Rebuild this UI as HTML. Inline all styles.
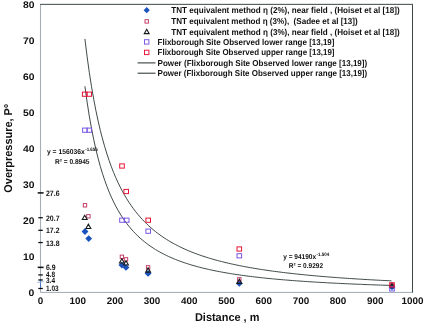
<!DOCTYPE html>
<html lang="en"><head><meta charset="utf-8"><title>Overpressure vs Distance</title>
<style>html,body{margin:0;padding:0;background:#fff;}svg{display:block;}text{font-family:"Liberation Sans", "DejaVu Sans", sans-serif;font-weight:bold;fill:#111;text-rendering:geometricPrecision;}</style></head><body>
<svg width="425" height="324" viewBox="0 0 425 324">
<rect x="0" y="0" width="425" height="324" fill="#ffffff"/>
<line x1="40.50" y1="4.35" x2="40.50" y2="292.20" stroke="#a4afb6" stroke-width="1.1"/>
<line x1="40.50" y1="292.40" x2="412.50" y2="292.40" stroke="#8c9aa6" stroke-width="0.85"/>
<line x1="40.10" y1="4.35" x2="412.90" y2="4.35" stroke="#263232" stroke-width="0.9"/>
<line x1="412.50" y1="4.35" x2="412.50" y2="292.60" stroke="#263232" stroke-width="0.9"/>
<text transform="translate(34.40 295.50) scale(1 0.95)" font-size="10.0" text-anchor="end" textLength="5.8" lengthAdjust="spacingAndGlyphs">0</text>
<text transform="translate(34.40 259.52) scale(1 0.95)" font-size="10.0" text-anchor="end" textLength="11.5" lengthAdjust="spacingAndGlyphs">10</text>
<text transform="translate(34.40 223.54) scale(1 0.95)" font-size="10.0" text-anchor="end" textLength="11.5" lengthAdjust="spacingAndGlyphs">20</text>
<text transform="translate(34.40 187.56) scale(1 0.95)" font-size="10.0" text-anchor="end" textLength="11.5" lengthAdjust="spacingAndGlyphs">30</text>
<text transform="translate(34.40 151.58) scale(1 0.95)" font-size="10.0" text-anchor="end" textLength="11.5" lengthAdjust="spacingAndGlyphs">40</text>
<text transform="translate(34.40 115.59) scale(1 0.95)" font-size="10.0" text-anchor="end" textLength="11.5" lengthAdjust="spacingAndGlyphs">50</text>
<text transform="translate(34.40 79.61) scale(1 0.95)" font-size="10.0" text-anchor="end" textLength="11.5" lengthAdjust="spacingAndGlyphs">60</text>
<text transform="translate(34.40 43.63) scale(1 0.95)" font-size="10.0" text-anchor="end" textLength="11.5" lengthAdjust="spacingAndGlyphs">70</text>
<text transform="translate(34.40 7.65) scale(1 0.95)" font-size="10.0" text-anchor="end" textLength="11.5" lengthAdjust="spacingAndGlyphs">80</text>
<text transform="translate(40.50 304.40) scale(1 0.95)" font-size="10.0" text-anchor="middle" textLength="5.5" lengthAdjust="spacingAndGlyphs">0</text>
<text transform="translate(77.70 304.40) scale(1 0.95)" font-size="10.0" text-anchor="middle" textLength="16.5" lengthAdjust="spacingAndGlyphs">100</text>
<text transform="translate(114.90 304.40) scale(1 0.95)" font-size="10.0" text-anchor="middle" textLength="16.5" lengthAdjust="spacingAndGlyphs">200</text>
<text transform="translate(152.10 304.40) scale(1 0.95)" font-size="10.0" text-anchor="middle" textLength="16.5" lengthAdjust="spacingAndGlyphs">300</text>
<text transform="translate(189.30 304.40) scale(1 0.95)" font-size="10.0" text-anchor="middle" textLength="16.5" lengthAdjust="spacingAndGlyphs">400</text>
<text transform="translate(226.50 304.40) scale(1 0.95)" font-size="10.0" text-anchor="middle" textLength="16.5" lengthAdjust="spacingAndGlyphs">500</text>
<text transform="translate(263.70 304.40) scale(1 0.95)" font-size="10.0" text-anchor="middle" textLength="16.5" lengthAdjust="spacingAndGlyphs">600</text>
<text transform="translate(300.90 304.40) scale(1 0.95)" font-size="10.0" text-anchor="middle" textLength="16.5" lengthAdjust="spacingAndGlyphs">700</text>
<text transform="translate(338.10 304.40) scale(1 0.95)" font-size="10.0" text-anchor="middle" textLength="16.5" lengthAdjust="spacingAndGlyphs">800</text>
<text transform="translate(375.30 304.40) scale(1 0.95)" font-size="10.0" text-anchor="middle" textLength="16.5" lengthAdjust="spacingAndGlyphs">900</text>
<text transform="translate(412.50 304.40) scale(1 0.95)" font-size="10.0" text-anchor="middle" textLength="22.0" lengthAdjust="spacingAndGlyphs">1000</text>
<text x="227.2" y="320.7" font-size="11.4" text-anchor="middle" textLength="64.5" lengthAdjust="spacingAndGlyphs">Distance , m</text>
<text transform="translate(11.6 148.4) rotate(-90)" font-size="11.4" text-anchor="middle" textLength="88.6" lengthAdjust="spacingAndGlyphs">Overpressure, Pº</text>
<path d="M84.90 38.88 L87.11 56.69 L89.31 72.50 L91.52 86.62 L93.72 99.29 L95.93 110.71 L98.13 121.05 L100.34 130.44 L102.55 139.01 L104.75 146.84 L106.96 154.03 L109.16 160.65 L111.37 166.75 L113.57 172.40 L115.78 177.64 L117.99 182.50 L120.19 187.03 L122.40 191.26 L124.60 195.22 L126.81 198.92 L129.02 202.39 L131.22 205.65 L133.43 208.72 L135.63 211.61 L137.84 214.34 L140.04 216.92 L142.25 219.36 L144.46 221.67 L146.66 223.86 L148.87 225.94 L151.07 227.92 L153.28 229.80 L155.48 231.59 L157.69 233.29 L159.90 234.92 L162.10 236.48 L164.31 237.96 L166.51 239.38 L168.72 240.74 L170.92 242.04 L173.13 243.29 L175.34 244.49 L177.54 245.64 L179.75 246.74 L181.95 247.80 L184.16 248.82 L186.36 249.81 L188.57 250.75 L190.78 251.66 L192.98 252.54 L195.19 253.39 L197.39 254.20 L199.60 254.99 L201.81 255.76 L204.01 256.49 L206.22 257.20 L208.42 257.89 L210.63 258.56 L212.83 259.20 L215.04 259.83 L217.25 260.43 L219.45 261.02 L221.66 261.59 L223.86 262.14 L226.07 262.68 L228.27 263.20 L230.48 263.70 L232.69 264.19 L234.89 264.67 L237.10 265.13 L239.30 265.58 L241.51 266.02 L243.71 266.44 L245.92 266.86 L248.13 267.26 L250.33 267.66 L252.54 268.04 L254.74 268.41 L256.95 268.77 L259.15 269.13 L261.36 269.47 L263.57 269.81 L265.77 270.14 L267.98 270.46 L270.18 270.77 L272.39 271.08 L274.59 271.38 L276.80 271.67 L279.01 271.95 L281.21 272.23 L283.42 272.50 L285.62 272.77 L287.83 273.03 L290.04 273.28 L292.24 273.53 L294.45 273.77 L296.65 274.01 L298.86 274.25 L301.06 274.47 L303.27 274.70 L305.48 274.92 L307.68 275.13 L309.89 275.34 L312.09 275.54 L314.30 275.75 L316.50 275.94 L318.71 276.14 L320.92 276.33 L323.12 276.51 L325.33 276.69 L327.53 276.87 L329.74 277.05 L331.94 277.22 L334.15 277.39 L336.36 277.55 L338.56 277.72 L340.77 277.88 L342.97 278.03 L345.18 278.19 L347.38 278.34 L349.59 278.49 L351.80 278.63 L354.00 278.78 L356.21 278.92 L358.41 279.05 L360.62 279.19 L362.83 279.32 L365.03 279.46 L367.24 279.58 L369.44 279.71 L371.65 279.84 L373.85 279.96 L376.06 280.08 L378.27 280.20 L380.47 280.32 L382.68 280.43 L384.88 280.54 L387.09 280.65 L389.29 280.76 L391.50 280.87" fill="none" stroke="#2a3434" stroke-width="0.9"/>
<path d="M84.90 86.28 L87.11 102.14 L89.31 116.13 L91.52 128.54 L93.72 139.60 L95.93 149.51 L98.13 158.43 L100.34 166.48 L102.55 173.79 L104.75 180.43 L106.96 186.50 L109.16 192.06 L111.37 197.16 L113.57 201.85 L115.78 206.19 L117.99 210.20 L120.19 213.92 L122.40 217.37 L124.60 220.59 L126.81 223.59 L129.02 226.39 L131.22 229.02 L133.43 231.48 L135.63 233.79 L137.84 235.96 L140.04 238.01 L142.25 239.94 L144.46 241.76 L146.66 243.48 L148.87 245.11 L151.07 246.65 L153.28 248.11 L155.48 249.50 L157.69 250.82 L159.90 252.08 L162.10 253.28 L164.31 254.42 L166.51 255.50 L168.72 256.54 L170.92 257.53 L173.13 258.48 L175.34 259.39 L177.54 260.26 L179.75 261.09 L181.95 261.89 L184.16 262.65 L186.36 263.39 L188.57 264.09 L190.78 264.77 L192.98 265.43 L195.19 266.05 L197.39 266.66 L199.60 267.24 L201.81 267.80 L204.01 268.35 L206.22 268.87 L208.42 269.37 L210.63 269.86 L212.83 270.33 L215.04 270.79 L217.25 271.23 L219.45 271.65 L221.66 272.06 L223.86 272.46 L226.07 272.85 L228.27 273.22 L230.48 273.59 L232.69 273.94 L234.89 274.28 L237.10 274.61 L239.30 274.93 L241.51 275.24 L243.71 275.55 L245.92 275.84 L248.13 276.13 L250.33 276.41 L252.54 276.68 L254.74 276.94 L256.95 277.20 L259.15 277.45 L261.36 277.69 L263.57 277.93 L265.77 278.16 L267.98 278.38 L270.18 278.60 L272.39 278.81 L274.59 279.02 L276.80 279.22 L279.01 279.42 L281.21 279.61 L283.42 279.80 L285.62 279.99 L287.83 280.17 L290.04 280.34 L292.24 280.51 L294.45 280.68 L296.65 280.84 L298.86 281.00 L301.06 281.16 L303.27 281.31 L305.48 281.46 L307.68 281.61 L309.89 281.75 L312.09 281.89 L314.30 282.03 L316.50 282.16 L318.71 282.29 L320.92 282.42 L323.12 282.55 L325.33 282.67 L327.53 282.79 L329.74 282.91 L331.94 283.03 L334.15 283.14 L336.36 283.25 L338.56 283.36 L340.77 283.47 L342.97 283.57 L345.18 283.68 L347.38 283.78 L349.59 283.88 L351.80 283.97 L354.00 284.07 L356.21 284.16 L358.41 284.25 L360.62 284.34 L362.83 284.43 L365.03 284.52 L367.24 284.61 L369.44 284.69 L371.65 284.77 L373.85 284.85 L376.06 284.93 L378.27 285.01 L380.47 285.09 L382.68 285.16 L384.88 285.24 L387.09 285.31 L389.29 285.38 L391.50 285.45" fill="none" stroke="#2a3434" stroke-width="0.9"/>
<line x1="40.50" y1="279" x2="40.50" y2="288.3" stroke="#3f6fc6" stroke-width="0.9"/>
<line x1="37.4" y1="282.4" x2="43.6" y2="281.6" stroke="#86b0e4" stroke-width="0.9"/>
<line x1="37.70" y1="192.89" x2="43.60" y2="192.89" stroke="#0c0c0c" stroke-width="1.50"/>
<text x="46.0" y="195.79" font-size="7.8" textLength="13.5" lengthAdjust="spacingAndGlyphs">27.6</text>
<line x1="38.30" y1="217.72" x2="42.80" y2="217.72" stroke="#0c0c0c" stroke-width="1.25"/>
<text x="46.0" y="220.62" font-size="7.8" textLength="13.5" lengthAdjust="spacingAndGlyphs">20.7</text>
<line x1="38.30" y1="230.31" x2="42.80" y2="230.31" stroke="#0c0c0c" stroke-width="1.25"/>
<text x="46.0" y="233.21" font-size="7.8" textLength="13.5" lengthAdjust="spacingAndGlyphs">17.2</text>
<line x1="38.30" y1="242.55" x2="42.80" y2="242.55" stroke="#0c0c0c" stroke-width="1.25"/>
<text x="46.0" y="245.95" font-size="7.8" textLength="13.5" lengthAdjust="spacingAndGlyphs">13.8</text>
<line x1="37.70" y1="267.37" x2="43.60" y2="267.37" stroke="#0c0c0c" stroke-width="1.50"/>
<text x="46.0" y="270.27" font-size="7.8" textLength="9.6" lengthAdjust="spacingAndGlyphs">6.9</text>
<line x1="38.30" y1="274.93" x2="42.80" y2="274.93" stroke="#0c0c0c" stroke-width="1.25"/>
<text x="46.0" y="277.03" font-size="7.8" textLength="9.0" lengthAdjust="spacingAndGlyphs">4.8</text>
<line x1="38.30" y1="279.97" x2="42.80" y2="279.97" stroke="#0c0c0c" stroke-width="1.25"/>
<text x="46.0" y="282.57" font-size="7.8" textLength="9.0" lengthAdjust="spacingAndGlyphs">3.4</text>
<line x1="38.30" y1="288.49" x2="42.80" y2="288.49" stroke="#0c0c0c" stroke-width="1.25"/>
<text x="46.0" y="291.39" font-size="7.8" textLength="12.6" lengthAdjust="spacingAndGlyphs">1.03</text>
<path d="M85.00 228.10 L88.40 231.50 L85.00 234.90 L81.60 231.50Z" fill="#1b52be"/>
<path d="M88.70 235.20 L92.10 238.60 L88.70 242.00 L85.30 238.60Z" fill="#1b52be"/>
<path d="M121.90 261.70 L125.30 265.10 L121.90 268.50 L118.50 265.10Z" fill="#1b52be"/>
<path d="M126.00 264.00 L129.40 267.40 L126.00 270.80 L122.60 267.40Z" fill="#1b52be"/>
<path d="M148.10 270.00 L151.50 273.40 L148.10 276.80 L144.70 273.40Z" fill="#1b52be"/>
<path d="M239.30 280.00 L242.70 283.40 L239.30 286.80 L235.90 283.40Z" fill="#1b52be"/>
<path d="M392.00 283.50 L395.40 286.90 L392.00 290.30 L388.60 286.90Z" fill="#1b52be"/>
<rect x="83.30" y="203.60" width="3.40" height="3.40" fill="none" stroke="#c02c58" stroke-width="0.90"/>
<rect x="86.70" y="214.60" width="3.40" height="3.40" fill="none" stroke="#c02c58" stroke-width="0.90"/>
<rect x="120.20" y="255.10" width="3.40" height="3.40" fill="none" stroke="#c02c58" stroke-width="0.90"/>
<rect x="124.30" y="257.70" width="3.40" height="3.40" fill="none" stroke="#c02c58" stroke-width="0.90"/>
<rect x="146.40" y="265.70" width="3.40" height="3.40" fill="none" stroke="#c02c58" stroke-width="0.90"/>
<rect x="237.60" y="277.70" width="3.40" height="3.40" fill="none" stroke="#c02c58" stroke-width="0.90"/>
<rect x="390.30" y="283.80" width="3.40" height="3.40" fill="none" stroke="#c02c58" stroke-width="0.90"/>
<path d="M84.70 215.25 L87.15 219.55 L82.25 219.55Z" fill="none" stroke="#141a1a" stroke-width="1.1" stroke-linejoin="miter"/>
<path d="M88.40 224.15 L90.85 228.45 L85.95 228.45Z" fill="none" stroke="#141a1a" stroke-width="1.1" stroke-linejoin="miter"/>
<path d="M121.90 258.75 L124.35 263.05 L119.45 263.05Z" fill="none" stroke="#141a1a" stroke-width="1.1" stroke-linejoin="miter"/>
<path d="M126.00 260.75 L128.45 265.05 L123.55 265.05Z" fill="none" stroke="#141a1a" stroke-width="1.1" stroke-linejoin="miter"/>
<path d="M148.10 267.85 L150.55 272.15 L145.65 272.15Z" fill="none" stroke="#141a1a" stroke-width="1.1" stroke-linejoin="miter"/>
<path d="M239.30 279.05 L241.75 283.35 L236.85 283.35Z" fill="none" stroke="#141a1a" stroke-width="1.1" stroke-linejoin="miter"/>
<path d="M392.00 283.45 L394.45 287.75 L389.55 287.75Z" fill="none" stroke="#141a1a" stroke-width="1.1" stroke-linejoin="miter"/>
<rect x="82.60" y="128.10" width="4.60" height="4.20" fill="none" stroke="#7a55e4" stroke-width="1.00"/>
<rect x="87.00" y="128.10" width="4.60" height="4.20" fill="none" stroke="#7a55e4" stroke-width="1.00"/>
<rect x="119.70" y="218.10" width="4.60" height="4.20" fill="none" stroke="#7a55e4" stroke-width="1.00"/>
<rect x="124.40" y="218.10" width="4.60" height="4.20" fill="none" stroke="#7a55e4" stroke-width="1.00"/>
<rect x="145.90" y="229.10" width="4.60" height="4.20" fill="none" stroke="#7a55e4" stroke-width="1.00"/>
<rect x="237.00" y="253.70" width="4.60" height="4.20" fill="none" stroke="#7a55e4" stroke-width="1.00"/>
<rect x="389.70" y="286.80" width="4.60" height="4.20" fill="none" stroke="#7a55e4" stroke-width="1.00"/>
<rect x="82.40" y="92.10" width="4.60" height="4.20" fill="none" stroke="#e61436" stroke-width="1.00"/>
<rect x="86.90" y="92.10" width="4.60" height="4.20" fill="none" stroke="#e61436" stroke-width="1.00"/>
<rect x="119.70" y="163.90" width="4.60" height="4.20" fill="none" stroke="#e61436" stroke-width="1.00"/>
<rect x="123.90" y="189.40" width="4.60" height="4.20" fill="none" stroke="#e61436" stroke-width="1.00"/>
<rect x="145.90" y="218.10" width="4.60" height="4.20" fill="none" stroke="#e61436" stroke-width="1.00"/>
<rect x="237.00" y="246.90" width="4.60" height="4.20" fill="none" stroke="#e61436" stroke-width="1.00"/>
<rect x="389.70" y="282.70" width="4.60" height="4.20" fill="none" stroke="#e61436" stroke-width="1.00"/>
<path d="M146.70 7.10 L149.80 10.20 L146.70 13.30 L143.60 10.20Z" fill="#1b52be"/>
<rect x="145.00" y="19.70" width="3.40" height="3.40" fill="none" stroke="#c02c58" stroke-width="0.90"/>
<path d="M146.70 29.35 L149.15 33.65 L144.25 33.65Z" fill="none" stroke="#141a1a" stroke-width="1.1" stroke-linejoin="miter"/>
<rect x="144.50" y="39.70" width="4.40" height="4.40" fill="none" stroke="#7a55e4" stroke-width="0.95"/>
<rect x="144.50" y="50.20" width="4.40" height="4.40" fill="none" stroke="#e61436" stroke-width="0.95"/>
<line x1="137.6" y1="62.90" x2="155.5" y2="62.90" stroke="#2c3636" stroke-width="1.05"/>
<line x1="137.6" y1="73.20" x2="155.5" y2="73.20" stroke="#2c3636" stroke-width="1.05"/>
<text x="171.30" y="13.40" font-size="8.6" xml:space="preserve" textLength="228.4" lengthAdjust="spacingAndGlyphs">TNT equivalent method η (2%), near field , (Hoiset et al [18])</text>
<text x="171.30" y="24.40" font-size="8.6" xml:space="preserve" textLength="186.4" lengthAdjust="spacingAndGlyphs">TNT equivalent method η (3%),  (Sadee et al [13])</text>
<text x="171.30" y="34.70" font-size="8.6" xml:space="preserve" textLength="228.4" lengthAdjust="spacingAndGlyphs">TNT equivalent method η (3%), near field , (Hoiset et al [18])</text>
<text x="157.60" y="44.90" font-size="8.6" xml:space="preserve" textLength="176.9" lengthAdjust="spacingAndGlyphs">Flixborough Site Observed lower range [13,19]</text>
<text x="157.60" y="55.40" font-size="8.6" xml:space="preserve" textLength="176.9" lengthAdjust="spacingAndGlyphs">Flixborough Site Observed upper range [13,19]</text>
<text x="157.60" y="65.90" font-size="8.6" xml:space="preserve" textLength="209.6" lengthAdjust="spacingAndGlyphs">Power (Flixborough Site Observed lower range [13,19])</text>
<text x="157.60" y="76.20" font-size="8.6" xml:space="preserve" textLength="209.6" lengthAdjust="spacingAndGlyphs">Power (Flixborough Site Observed upper range [13,19])</text>
<text x="47.00" y="154.25" font-size="7.1" textLength="37.7" lengthAdjust="spacingAndGlyphs">y = 156036x</text><text x="85.20" y="151.35" font-size="4.9" textLength="12.6" lengthAdjust="spacingAndGlyphs">-1.655</text>
<text x="55" y="164.30" font-size="7.1" textLength="34.5" lengthAdjust="spacingAndGlyphs">R² = 0.8945</text>
<text x="283.20" y="258.60" font-size="7.1" textLength="32.9" lengthAdjust="spacingAndGlyphs">y = 94190x</text><text x="316.60" y="255.70" font-size="4.9" textLength="12.7" lengthAdjust="spacingAndGlyphs">-1.504</text>
<text x="288.8" y="267.70" font-size="7.1" textLength="34.3" lengthAdjust="spacingAndGlyphs">R² = 0.9292</text>
</svg></body></html>
